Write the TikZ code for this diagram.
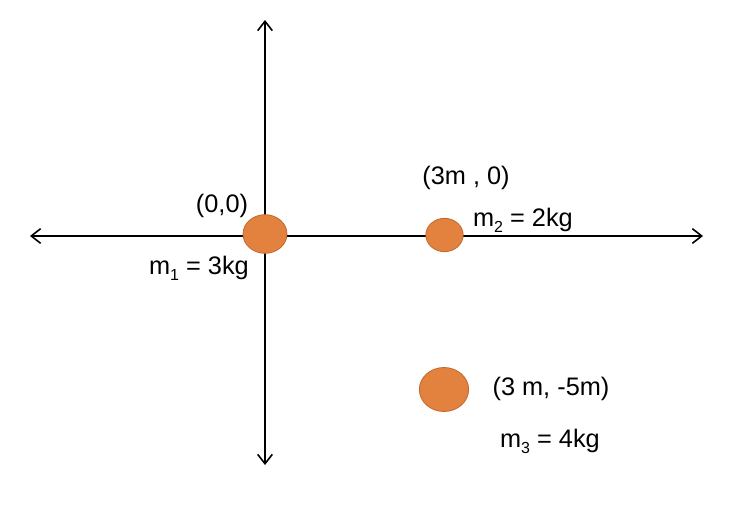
\documentclass[tikz,border=0pt]{standalone}
\usepackage{fontspec}
\setmainfont{Liberation Sans}
\usetikzlibrary{arrows.meta, shapes.geometric}
\definecolor{massfill}{HTML}{E3823F}
\definecolor{massline}{HTML}{C0692E}
\newcommand{\lowsub}[1]{\raisebox{-0.45ex}{\fontsize{12}{14}\selectfont #1}}

\begin{document}
\begin{tikzpicture}[x=0.75pt, y=-0.75pt]
      \tikzset{mass/.style = {shape=ellipse,draw=massline,fill=massfill,inner sep=0pt,line width=0.6pt}}
      \tikzset{axis/.style = {-{Straight Barb[length=7pt,width=11pt]},line width=1.2pt}}
      \tikzset{label/.style = {font=\fontsize{19}{22}\selectfont,inner sep=0pt}}
      \useasboundingbox (0,0) rectangle (744,510);

      \coordinate (o) at (265, 236);
      \coordinate (left) at (30, 236);
      \coordinate (right) at (703, 236);
      \coordinate (top) at (265, 20);
      \coordinate (bottom) at (265, 465);

      \draw[axis] (o) to (left);
      \draw[axis] (o) to (right);
      \draw[axis] (o) to (top);
      \draw[axis] (o) to (bottom);

      \node[mass,minimum width=33pt,minimum height=29pt] (m1) at (265, 234) {};
      \node[mass,minimum width=28pt,minimum height=25pt] (m2) at (444.5, 235) {};
      \node[mass,minimum width=37pt,minimum height=33pt] (m3) at (444, 389.5) {};

      \node[label] (p1) at (222, 206) {(0,0)};
      \node[label] (w1) at (199, 268) {m\lowsub{1} = 3kg};
      \node[label] (p2) at (466, 178) {(3m , 0)};
      \node[label] (w2) at (523, 220) {m\lowsub{2} = 2kg};
      \node[label] (p3) at (551, 389) {(3 m, -5m)};
      \node[label] (w3) at (550, 441) {m\lowsub{3} = 4kg};
    \end{tikzpicture}
\end{document}
